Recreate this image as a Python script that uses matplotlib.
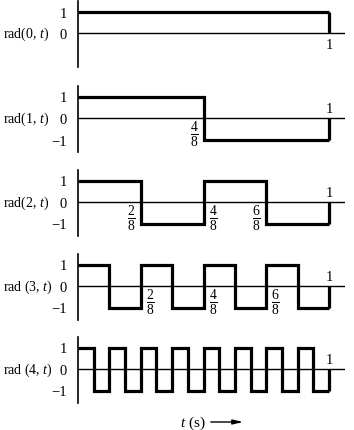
import numpy as np
import matplotlib.pyplot as plt
from matplotlib.patches import FancyArrowPatch

plt.rcParams['font.family'] = ['Liberation Serif', 'DejaVu Serif']
plt.rcParams['mathtext.fontset'] = 'custom'
plt.rcParams['mathtext.rm'] = 'Liberation Serif'
plt.rcParams['mathtext.it'] = 'Liberation Serif:italic'

# Rademacher function values on each equal interval of [0, 1]
rad0 = [1]
rad1 = [1, -1]
rad2 = [1, -1, 1, -1]
rad3 = [1, -1, 1, -1, 1, -1, 1, -1]
rad4 = [1, -1, 1, -1, 1, -1, 1, -1, 1, -1, 1, -1, 1, -1, 1, -1]
waves = [rad0, rad1, rad2, rad3, rad4]
row_labels = ['rad(0, $t$)', 'rad(1, $t$)', 'rad(2, $t$)', 'rad (3, $t$)', 'rad (4, $t$)']

# fraction labels: (t, numerator, side of the edge)
frac_labels = [
    [],
    [(0.5, '4', 'left')],
    [(0.25, '2', 'left'), (0.5, '4', 'right'), (0.75, '6', 'left')],
    [(0.25, '2', 'right'), (0.5, '4', 'right'), (0.75, '6', 'right')],
    [],
]

W, H = 354, 431
fig = plt.figure(figsize=(W / 100, H / 100), dpi=100)

zero_px = [34, 119, 203, 287, 370]
unit = 21.5
x0_px, x1_px = 78, 345
ylo, yhi = -1.6, 1.5

for i, vals in enumerate(waves):
    z = zero_px[i]
    bottom = 1 - (z - ylo * unit) / H
    height = (yhi - ylo) * unit / H
    ax = fig.add_axes([x0_px / W, bottom, (x1_px - x0_px) / W, height])
    ax.set_xlim(0, (x1_px - x0_px) / 251)
    ax.set_ylim(ylo, yhi)
    for s in ['top', 'right', 'bottom']:
        ax.spines[s].set_visible(False)
    ax.spines['left'].set_linewidth(1.2)
    ax.axhline(0, color='black', lw=1.0)

    n = len(vals)
    edges = np.linspace(0, 1, n + 1)
    ax.stairs(vals, edges, baseline=None, color='black', lw=2.3)
    ax.plot([1, 1], [vals[-1], 0], color='black', lw=2.3, solid_capstyle='butt')

    ticks = [0, 1] if i == 0 else [-1, 0, 1]
    ax.set_yticks(ticks)
    ax.set_yticklabels(['\u22121' if t == -1 else str(t) for t in ticks], fontsize=10.5)
    ax.tick_params(axis='y', length=0, pad=8)
    ax.set_xticks([])

    if i == 0:
        ax.text(1, -0.55, '1', ha='center', va='center', fontsize=10.5)
    else:
        ax.text(1, 0.45, '1', ha='center', va='center', fontsize=10.5)

    for t, num, side in frac_labels[i]:
        dx = -0.038 if side == 'left' else 0.038
        ax.text(t + dx, -0.72, r'$\frac{%s}{8}$' % num, ha='center', va='center', fontsize=14)

    fig.text(3 / W, 1 - z / H, row_labels[i], ha='left', va='center', fontsize=10)

fig.text(180 / W, 8 / H, '$t$ (s)', ha='left', va='center', fontsize=11)
fig.patches.append(FancyArrowPatch(
    (208 / W, 8 / H), (246 / W, 8 / H), transform=fig.transFigure,
    arrowstyle='-|>,head_length=6,head_width=1.4', color='black', lw=1.0))

fig.savefig('out.png', dpi=100)
